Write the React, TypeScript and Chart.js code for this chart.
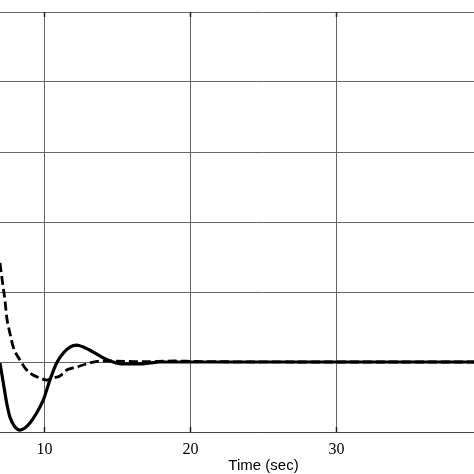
import React, { useEffect, useRef } from "react";
import { Chart, registerables } from "chart.js";

Chart.register(...registerables);

// Time (sec) and response values
const solidTime = [6.95, 7.18, 7.41, 7.63, 7.98, 8.32, 8.66, 9.0, 9.46, 9.92, 10.37, 10.83, 11.29, 11.74, 12.2, 12.66, 13.34, 14.03, 14.69, 15.37, 16.54, 17.22, 17.91, 20, 30, 40, 50];
const solidValue = [-0.007, -0.15, -0.293, -0.393, -0.464, -0.486, -0.471, -0.436, -0.364, -0.271, -0.129, -0.007, 0.064, 0.107, 0.121, 0.107, 0.071, 0.029, 0.0, -0.014, -0.014, -0.007, 0.0, 0.0, 0.0, 0.0, 0.0];

const dashedTime = [6.95, 7.13, 7.29, 7.41, 7.63, 7.86, 8.32, 8.78, 9.21, 9.69, 10.15, 10.58, 11.06, 11.52, 12.2, 13.11, 13.8, 14.69, 16.54, 18.94, 20.3, 30, 40, 50];
const dashedValue = [0.707, 0.564, 0.443, 0.321, 0.207, 0.107, 0.014, -0.057, -0.093, -0.114, -0.129, -0.114, -0.1, -0.057, -0.036, -0.007, 0.007, 0.007, 0.002, 0.007, 0.004, 0.0, 0.0, 0.0];

const xTickValues = [0, 10, 20, 30, 40, 50];
const xTickLabels = ["0", "10", "20", "30", "40", "50"];
const yTickValues = [-0.5, 0, 0.5, 1, 1.5, 2, 2.5];
const xTitle = "Time (sec)";

const insideTicks = {
  id: "insideTicks",
  afterDraw(chart: any) {
    const { ctx, chartArea, scales } = chart;
    const xs = scales.x;
    ctx.save();
    ctx.strokeStyle = "#222";
    ctx.lineWidth = 1.5;
    xTickValues.forEach((v) => {
      const px = xs.getPixelForValue(v);
      ctx.beginPath();
      ctx.moveTo(px, chartArea.top);
      ctx.lineTo(px, chartArea.top + 5);
      ctx.moveTo(px, chartArea.bottom);
      ctx.lineTo(px, chartArea.bottom - 5);
      ctx.stroke();
    });
    ctx.restore();
  },
};

export default function App() {
  const ref = useRef<HTMLCanvasElement | null>(null);

  useEffect(() => {
    if (!ref.current) return;
    const chart = new Chart(ref.current, {
      type: "line",
      data: {
        datasets: [
          {
            label: "solid",
            data: solidTime.map((t, i) => ({ x: t, y: solidValue[i] })),
            borderColor: "#000",
            borderWidth: 3.2,
            pointRadius: 0,
            cubicInterpolationMode: "monotone",
            fill: false,
          },
          {
            label: "dashed",
            data: dashedTime.map((t, i) => ({ x: t, y: dashedValue[i] })),
            borderColor: "#000",
            borderWidth: 2.8,
            borderDash: [9, 4],
            pointRadius: 0,
            cubicInterpolationMode: "monotone",
            fill: false,
          },
        ],
      },
      options: {
        animation: false,
        responsive: false,
        devicePixelRatio: 1,
        layout: { padding: { top: 12, right: 21.5, left: 0, bottom: 0 } },
        plugins: { legend: { display: false }, tooltip: { enabled: false } },
        scales: {
          x: {
            type: "linear",
            min: 0,
            max: 50,
            afterFit: (s: any) => {
              s.height = 42;
            },
            afterBuildTicks: (s: any) => {
              s.ticks = xTickValues.map((v) => ({ value: v }));
            },
            ticks: {
              padding: 8,
              color: "#000",
              font: { family: "'Liberation Serif', 'Times New Roman', serif", size: 16 },
              callback: (v: any) => {
                const i = xTickValues.indexOf(Number(v));
                return i >= 0 ? xTickLabels[i] : "";
              },
            },
            grid: { color: "#666", lineWidth: 1, drawTicks: false },
            border: { color: "#444", width: 1 },
            title: {
              display: true,
              text: xTitle,
              color: "#000",
              padding: { top: 0, bottom: -1 },
              font: { family: "'Liberation Sans', Arial, sans-serif", size: 15 },
            },
          },
          y: {
            type: "linear",
            min: -0.5,
            max: 2.5,
            afterFit: (s: any) => {
              s.width = 48.5;
            },
            afterBuildTicks: (s: any) => {
              s.ticks = yTickValues.map((v) => ({ value: v }));
            },
            ticks: { display: false },
            grid: { color: "#666", lineWidth: 1, drawTicks: false },
            border: { color: "#444", width: 1 },
          },
        },
      },
      plugins: [insideTicks],
    });
    return () => chart.destroy();
  }, []);

  return (
    <div
      style={{
        position: "fixed",
        left: 0,
        top: 0,
        width: 474,
        height: 474,
        overflow: "hidden",
        background: "#fff",
      }}
    >
      <canvas
        ref={ref}
        width={800}
        height={474}
        style={{ position: "absolute", left: -150, top: 0, width: 800, height: 474 }}
      />
    </div>
  );
}
